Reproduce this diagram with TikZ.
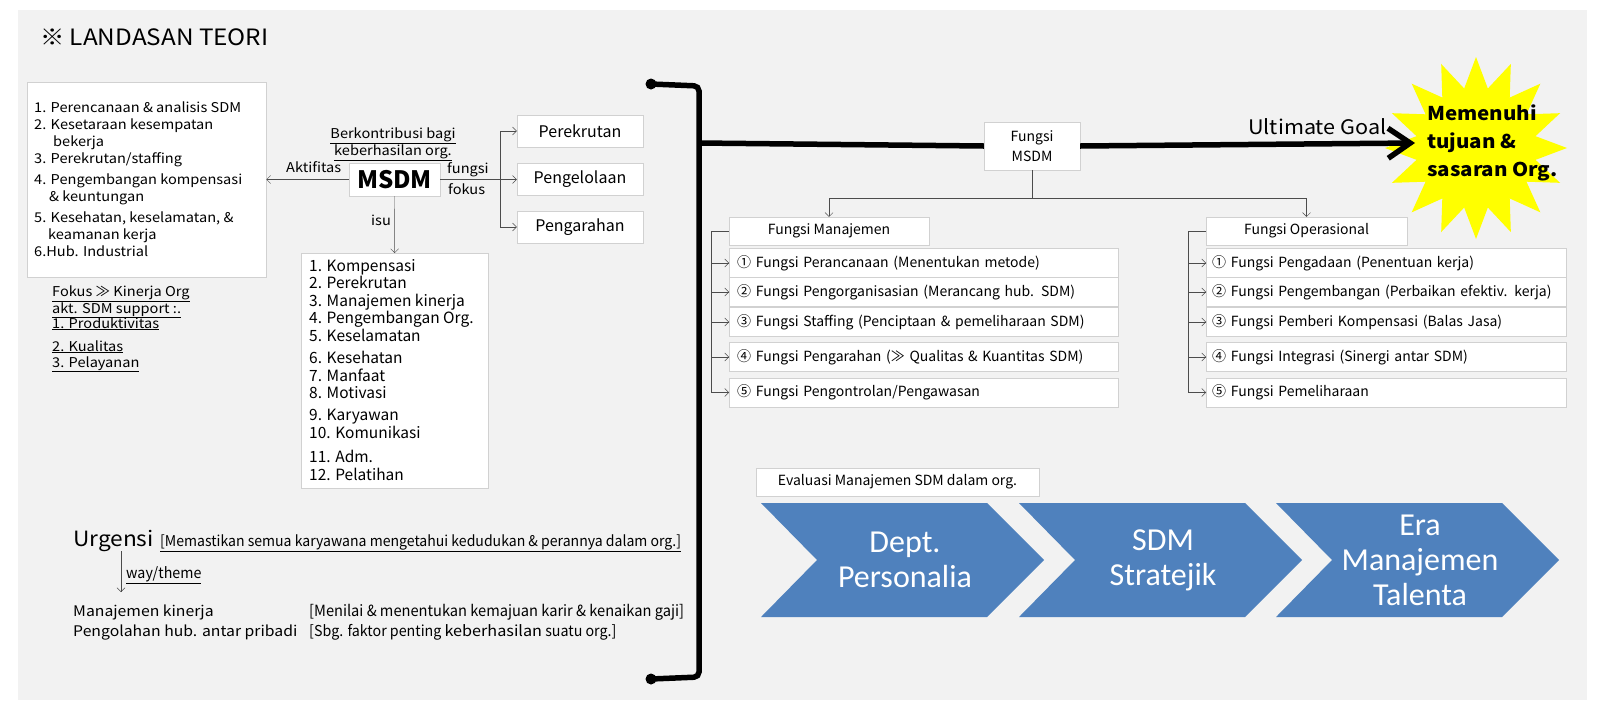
\documentclass[tikz,border=0pt]{standalone}
\usepackage{fontspec}
\setmainfont[FakeStretch=1.08]{Noto Sans CJK JP}
\newfontfamily\plainfont{Noto Sans CJK JP}
\newfontfamily\narrowfont[FakeStretch=0.95]{Noto Sans CJK JP}
\newfontfamily\chevfont{Carlito}
\usetikzlibrary{arrows.meta, shapes.geometric, positioning}

\definecolor{bggray}{HTML}{F2F2F2}
\definecolor{chevblue}{HTML}{4F81BD}
\definecolor{staryellow}{HTML}{FFFF00}
\newcommand{\fsz}[1]{\fontsize{#1}{#1}\selectfont}

\begin{document}
\begin{tikzpicture}
		[x=1pt, y=-1pt,
		box/.style = {draw=black!18, fill=white, inner sep=0pt},
		ln/.style = {anchor=base west, inner sep=0pt},
		arr/.style = {draw=black!70, -{Straight Barb[length=4pt, width=8pt]}},
		item/.style = {box, anchor=west, align=left, minimum height=29pt, font=\plainfont\fsz{14}},
		big/.style = {line width=5.5pt},
		dot/.style = {circle, fill=black, minimum size=11pt, inner sep=0pt},
		chevtxt/.style = {text=white, align=center, inner sep=0pt, font=\chevfont\fontsize{32}{35}\selectfont}]

		\useasboundingbox (0,0) rectangle (1600,713);
		\fill[bggray] (18,10) rectangle (1587,700);

		\node[ln, font=\fsz{22.5}] (title) at (40,45) {※ LANDASAN TEORI};

		% aktifitas
		\node[box, anchor=north west, minimum width=239pt, minimum height=195pt] (akt) at (27,82) {};
		\foreach \x/\y/\name/\txt in {
			34/112/a1/{1. Perencanaan \& analisis SDM},
			34/129/a2/{2. Kesetaraan kesempatan},
			53/146/a3/{bekerja},
			34/163/a4/{3. Perekrutan/staffing},
			34/184/a5/{4. Pengembangan kompensasi},
			49/201/a6/{\& keuntungan},
			34/222/a7/{5. Kesehatan, keselamatan, \&},
			48/239/a8/{keamanan kerja},
			34/256/a9/{6.Hub. Industrial}}{
			\node[ln, font=\fsz{13.5}] (\name) at (\x,\y) {\txt};
		}
		\foreach \y/\name/\txt in {
			296/f1/{Fokus ≫ Kinerja Org},
			313/f2/{akt. SDM support :.},
			328/f3/{1. Produktivitas},
			351/f4/{2. Kualitas},
			367/f5/{3. Pelayanan}}{
			\node[ln, font=\fsz{13.5}] (\name) at (52,\y) {\underline{\txt}};
		}

		% msdm
		\node[box, minimum width=91pt, minimum height=33pt, font=\plainfont\bfseries\fsz{24}] (msdm) at (394.5,179.5) {MSDM};
		\node[anchor=base, inner sep=0pt, font=\fsz{13.5}] (kontrib1) at (393,138) {\underline{Berkontribusi bagi}};
		\node[anchor=base, inner sep=0pt, font=\fsz{13.5}] (kontrib2) at (393,155) {\underline{keberhasilan org.}};
		\node[ln, font=\fsz{13.5}] (aktlbl) at (286,172) {Aktifitas};
		\node[ln, font=\fsz{13.5}] (fungsilbl) at (447,173) {fungsi};
		\node[ln, font=\fsz{13.5}] (fokuslbl) at (448,194) {fokus};
		\node[ln, font=\fsz{13.5}] (isulbl) at (371,225) {isu};

		\foreach \y/\name/\txt in {
			131/perekrutan/Perekrutan,
			179.5/pengelolaan/Pengelolaan,
			227/pengarahan/Pengarahan}{
			\node[box, minimum width=126pt, minimum height=32pt, font=\plainfont\fsz{16}] (\name) at (580,\y) {\txt};
		}
		\coordinate (fsplit) at (500,179.5);
		\draw[arr] (msdm.west) -- (msdm.west -| akt.east);
		\draw[arr] (msdm.east) -- (pengelolaan.west);
		\draw[arr] (fsplit) |- (perekrutan.west);
		\draw[arr] (fsplit) |- (pengarahan.west);

		% isu
		\node[box, anchor=north west, minimum width=187pt, minimum height=235pt] (isubox) at (301,253) {};
		\draw[arr] (msdm.south) -- (isubox.north);
		\foreach \y/\name/\txt in {
			271.5/i1/{1. Kompensasi},
			288.5/i2/{2. Perekrutan},
			306.5/i3/{3. Manajemen kinerja},
			323.5/i4/{4. Pengembangan Org.},
			341.5/i5/{5. Keselamatan},
			363.5/i6/{6. Kesehatan},
			381.5/i7/{7. Manfaat},
			398.5/i8/{8. Motivasi},
			420.5/i9/{9. Karyawan},
			438.5/i10/{10. Komunikasi},
			462.5/i11/{11. Adm.},
			480.5/i12/{12. Pelatihan}}{
			\node[ln, font=\plainfont\fsz{15.5}] (\name) at (309,\y) {\txt};
		}

		% urgensi
		\node[ln, font=\fsz{21}] (urg) at (73,546) {Urgensi};
		\node[ln, font=\narrowfont\fsz{14.8}] (urgket) at (160,546) {\underline{[Memastikan semua karyawana mengetahui kedudukan \& perannya dalam org.]}};
		\coordinate (wayend) at (121,592);
		\draw[arr] (urg.south -| wayend) -- (wayend);
		\node[ln, font=\narrowfont\fsz{15}] (way) at (126,578) {\underline{way/theme}};
		\node[ln, font=\fsz{14.6}] (kinerja) at (73,616) {Manajemen kinerja};
		\node[ln, font=\fsz{14.6}] (pribadi) at (73,636) {Pengolahan hub. antar pribadi};
		\node[ln, font=\narrowfont\fsz{15.4}] (kinerjaket) at (309,616) {[Menilai \& menentukan kemajuan karir \& kenaikan gaji]};
		\node[ln, font=\narrowfont\fsz{15}] (pribadiket) at (309,636) {[Sbg. faktor penting {\rmfamily\fsz{15}keberhasilan} suatu org.]};

		% bracket
		\node[dot] (brtop) at (651,84) {};
		\node[dot] (brbot) at (651,679) {};
		\draw[big, rounded corners=5pt] (brtop.center) -- (699,86) -- (699,677) -- (brbot.center);
		\coordinate (brmid) at (699,143);

		% fungsi msdm
		\node[star, star points=16, star point ratio=1.5, fill=staryellow, minimum size=182pt, inner sep=0pt] (burst) at (1476,148) {};
		\node[box, minimum width=96pt, minimum height=48pt, align=center, font=\plainfont\fontsize{14}{20}\selectfont] (fmsdm) at (1032,146) {Fungsi\\MSDM};
		\coordinate (goal) at (1415,143);
		\draw[big] (brmid) -- (fmsdm.west);
		\draw[big, -{Straight Barb[length=22pt, width=30pt]}] (fmsdm.east) -- (goal);
		\node[ln, font=\fsz{20}] (ultimate) at (1248,134) {Ultimate Goal};
		\node[anchor=west, align=left, inner sep=0pt, font=\bfseries\fontsize{19}{28}\selectfont] (goaltxt) at (1427,143) {Memenuhi\\tujuan \&\\sasaran Org.};

		\node[box, minimum width=200pt, minimum height=28pt, font=\plainfont\fsz{14}] (fman) at (829,231) {Fungsi Manajemen};
		\node[box, minimum width=201pt, minimum height=28pt, font=\plainfont\fsz{14}] (fops) at (1306.5,231) {Fungsi Operasional};
		\coordinate (fsplit2) at (1032,198);
		\draw[draw=black!70] (fmsdm.south) -- (fsplit2);
		\draw[arr] (fsplit2) -| (fman.north);
		\draw[arr] (fsplit2) -| (fops.north);

		\foreach \y/\name/\txt in {
			263/m1/{① Fungsi Perancanaan (Menentukan metode)},
			292/m2/{② Fungsi Pengorganisasian (Merancang hub. SDM)},
			322/m3/{③ Fungsi Staffing (Penciptaan \& pemeliharaan SDM)},
			357/m4/{④ Fungsi Pengarahan (≫ Qualitas \& Kuantitas SDM)},
			392.5/m5/{⑤ Fungsi Pengontrolan/Pengawasan}}{
			\node[item, inner xsep=8pt, text width=373pt] (\name) at (729,\y) {\txt};
			\draw[arr] (fman.west) -- ++(-18,0) |- (\name.west);
		}
		\foreach \y/\name/\txt in {
			263/o1/{① Fungsi Pengadaan (Penentuan kerja)},
			292/o2/{② Fungsi Pengembangan (Perbaikan efektiv. kerja)},
			322/o3/{③ Fungsi Pemberi Kompensasi (Balas Jasa)},
			357/o4/{④ Fungsi Integrasi (Sinergi antar SDM)},
			392.5/o5/{⑤ Fungsi Pemeliharaan}}{
			\node[item, inner xsep=6pt, text width=348pt] (\name) at (1206,\y) {\txt};
			\draw[arr] (fops.west) -- ++(-18,0) |- (\name.west);
		}

		% evaluasi
		\node[box, minimum width=283pt, minimum height=28pt, font=\plainfont\fsz{14}] (eval) at (897.5,482) {Evaluasi Manajemen SDM dalam org.};
		\foreach \x/\name/\txt in {
			761/dept/{Dept.\\Personalia},
			1019/strat/{SDM\\Stratejik},
			1276/talenta/{Era\\Manajemen\\Talenta}}{
			\fill[chevblue] (\x,503) -- ++(226,0) -- ++(57,57) -- ++(-57,57) -- ++(-226,0) -- ++(56,-57) -- cycle;
			\node[chevtxt] (\name) at (\x+144,560) {\txt};
		}
	\end{tikzpicture}
\end{document}
